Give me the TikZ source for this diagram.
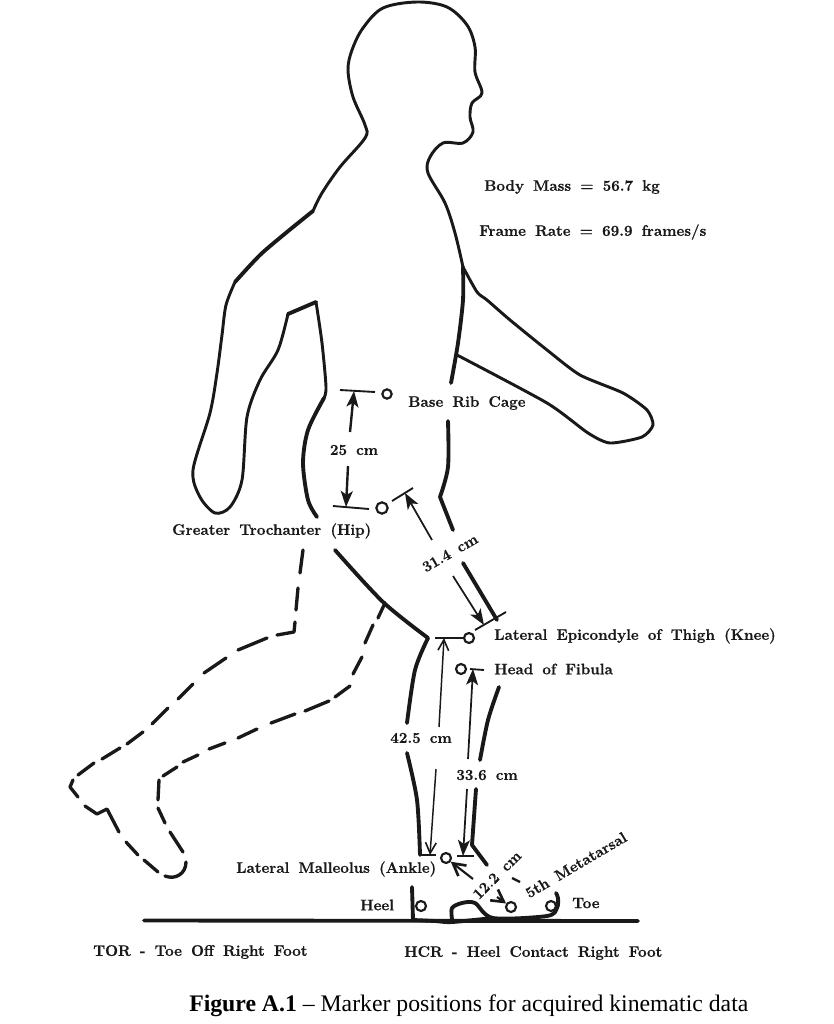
\documentclass[tikz,border=0pt]{standalone}
\usepackage{fontspec}
\usetikzlibrary{arrows.meta}
\newfontfamily\capfont{Liberation Serif}
\newfontfamily\lblfont[BoldFont={Latin Modern Roman/B},BoldFeatures={FakeBold=0.8}]{Latin Modern Roman}
\begin{document}
\begin{tikzpicture}[x=0.75pt,y=-0.75pt,
  outline/.style={line width=2.9pt,line cap=round,line join=round,black!90},
  outlinethin/.style={line width=2.2pt,line cap=round,line join=round,black!90},
  dashseg/.style={line width=2.5pt,line cap=round,line join=round,black!90},
  tbar/.style={line width=1.4pt,black!90},
  dimfill/.style={line width=1.3pt,black!90,-{Stealth[length=12pt,width=9pt,inset=3pt]}},
  dimopen/.style={line width=1.1pt,black!90,-{Straight Barb[length=8pt,width=8pt,line width=1.2pt]}},
  dimbarb/.style={line width=1.6pt,black!90,-{Straight Barb[length=9pt,width=10pt,line width=2pt]}},
  marker/.style={circle,draw=black!90,line width=1.6pt,minimum size=7.5pt,inner sep=0pt},
  lbl/.style={font=\lblfont\fontsize{11.4}{13}\selectfont\bfseries,inner sep=0pt,text=black!90},
  wide/.style={execute at begin node={\spaceskip=0.6em\relax}},
]
\useasboundingbox (0,0) rectangle (833,1024);

% --- head, shoulders and trunk ---
\draw[outline] plot[smooth,tension=0.45] coordinates {(235,282)(260,255)(287,232)(313,211)};
\draw[outlinethin] plot[smooth,tension=0.55] coordinates {(313,211)(322,193)(340,167)(365,138)(365,125)(353,97)(348,70)(352,50)(363,28)(383,8)(417,2)(447,7)(467,25)(475,47)(475,72)(482,93)(472,103)(470,117)(473,132)(463,143)(443,143)(430,157)(428,173)(445,203)(455,233)(463,267)};
\draw[outline] plot[smooth,tension=0.5] coordinates {(463,267)(463,300)(458,343)(451,383)};
\draw[outline] plot[smooth,tension=0.5] coordinates {(448,421)(448,467)(440,497)};
\draw[outline] (440,497) -- (453,530);
% back arm
\draw[outlinethin] plot[smooth,tension=0.5] coordinates {(235,282)(226,305)(222,335)(217,373)(210,413)(193,470)(200,497)(215,513)(230,507)(242,480)(247,417)(260,380)(278,350)(288,314)};
\draw[outline] (288,314) -- (316,302);
\draw[outlinethin] plot[smooth,tension=0.5] coordinates {(316,302)(322,343)(326,387)(324,398)};
\draw[outline] plot[smooth,tension=0.5] coordinates {(324,398)(308,430)(303,463)(308,500)(317,517)};
% front arm
\draw[outlinethin] plot[smooth,tension=0.4] coordinates {(463,267)(477,292)(487,300)(510,320)(547,350)(580,375)(623,393)(647,410)(653,425)(642,437)(610,443)(588,433)(547,403)(457,355)};
% leg
\draw[outline] plot[smooth,tension=0.5] coordinates {(335,550)(383,602)(428,638)};
\draw[outline] plot[smooth,tension=0.5] coordinates {(428,638)(415,670)(407,723)};
\draw[outline] plot[smooth,tension=0.5] coordinates {(407,753)(417,800)(420,855)};
\draw[outline] (463,563) -- (497,620);
\draw[outline] plot[smooth,tension=0.5] coordinates {(499,687)(488,720)(480,760)};
\draw[outline] (476,789) -- (472,845) -- (487,865);
% foot and ground
\draw[outline] (144,920.5) -- (638,921);
\draw[outline] (412,887) -- (413,920);
\draw[outline] plot[smooth,tension=0.5] coordinates {(413,920)(435,921)(452,922)(493,918)};
\draw[outline] plot[smooth,tension=0.5] coordinates {(452,919)(452,908)(462,903)(475,903)(493,918)(547,916)(557,908)(558,898)(556,893)};

% --- dashed left leg ---
\draw[dashseg] (303,550) -- (300,573) (298,588) -- (296,610)
  (295,622) -- (294,632) -- (277,635) (267,638) -- (238,650) (226,658) -- (204,673)
  (193,684) -- (178,699) (168,708) -- (152,724) (143,732) -- (127,744)
  (120,748) -- (102,759) (94,763) -- (78,775) (73,780) -- (70,787) -- (78,797)
  (85,806) -- (97,814) -- (107,809) -- (119,832) (126,842) -- (138,855)
  (144,860) -- (158,872) (165,876) .. controls (175,880) and (186,874) .. (186,862)
  (183,852) -- (170,832) (165,823) -- (158,808) (158,800) -- (159,780)
  (163,776) -- (177,767) (183,762) -- (198,755) (209,749) -- (225,743)
  (238,738) -- (257,729) (271,723) -- (295,714) (305,711) -- (329,701)
  (335,697) -- (350,686) (353,674) -- (362,657) (365,643) -- (373,625)
  (378,618) -- (385,603);

% --- markers ---
\node[marker,minimum size=7pt] (rib) at (387,394) {};
\node[marker,minimum size=8.5pt] (hip) at (382,508) {};
\node[marker] (knee) at (469,638) {};
\node[marker] (fibula) at (461,669) {};
\node[marker] (ankle) at (446,858) {};
\node[marker] (meta) at (511,907) {};
\node[marker] (heel) at (421,906) {};
\node[marker] (toe) at (551,906) {};

% --- dimension bars ---
\coordinate (ribL) at (340,390); \coordinate (ribR) at (375,392); \coordinate (ribT) at (354,391);
\coordinate (hipL) at (333,506); \coordinate (hipR) at (369,509); \coordinate (hipT) at (346,507);
\coordinate (hipaL) at (392,501); \coordinate (hipaR) at (413,488); \coordinate (hipaT) at (405,493);
\coordinate (kneeaL) at (475,630); \coordinate (kneeaR) at (506,612); \coordinate (kneeaT) at (484,625);
\coordinate (kneeL) at (435,638); \coordinate (kneeR) at (463,638); \coordinate (kneeT) at (444,638);
\coordinate (fibL) at (470,669); \coordinate (fibR) at (484,670); \coordinate (fibT) at (473,669);
\coordinate (mallL) at (420,855); \coordinate (mallR) at (436,855); \coordinate (mallT) at (430,855);
\coordinate (footL) at (457,856); \coordinate (footR) at (474,856); \coordinate (footT) at (463,856);
\foreach \a/\b in {ribL/ribR,hipL/hipR,hipaL/hipaR,kneeaL/kneeaR,kneeL/kneeR,fibL/fibR,mallL/mallR,footL/footR}
  \draw[tbar] (\a) -- (\b);

% --- free ends of dimension arrows ---
\coordinate (a25up) at (350,432);
\coordinate (a25dn) at (348,466);
\coordinate (a31up) at (432,540);
\coordinate (a31dn) at (453,576);
\coordinate (a42up) at (439,727);
\coordinate (a42dn) at (436,769);
\coordinate (a33up) at (468,759);
\coordinate (a33dn) at (467,789);
\coordinate (a12up) at (473,879);
\coordinate (a12dn) at (497,897);
\coordinate (a12tA) at (512,878);
\coordinate (a12tB) at (520,882);

\draw[dimfill,line width=1.8pt] (a25up) -- (ribT);
\draw[dimfill,line width=1.8pt] (a25dn) -- (hipT);
\draw[dimfill] (a31up) -- (hipaT);
\draw[dimfill] (a31dn) -- (kneeaT);
\draw[dimopen] (a42up) -- (kneeT);
\draw[dimopen] (a42dn) -- (mallT);
\draw[dimfill] (a33up) -- (fibT);
\draw[dimfill] (a33dn) -- (footT);
\draw[dimbarb] (a12up) -- (ankle);
\draw[dimbarb] (a12dn) -- (meta);
\draw[line width=1.8pt,black!90] (a12tA) -- (a12tB);

% --- labels ---
\node[lbl,wide,anchor=west] (bm) at (484,187) {Body Mass = 56.7 kg};
\node[lbl,wide,anchor=west] (fr) at (479,232) {Frame Rate = 69.9 frames/s};
\node[lbl,wide,anchor=west] (brc) at (408,403) {Base Rib Cage};
\node[lbl,wide] (l25) at (354,450) {25 cm};
\node[lbl,wide,anchor=west] (gt) at (172,531) {Greater Trochanter (Hip)};
\node[lbl,wide,rotate=30] (l31) at (450,553) {31.4 cm};
\node[lbl,wide,anchor=west] (lek) at (494,636) {Lateral Epicondyle of Thigh (Knee)};
\node[lbl,wide,anchor=west] (hf) at (494,669) {Head of Fibula};
\node[lbl,wide] (l42) at (421,738) {42.5 cm};
\node[lbl,wide] (l33) at (487,775) {33.6 cm};
\node[lbl,wide,anchor=west] (lm) at (236,869) {Lateral Malleolus (Ankle)};
\node[lbl,wide,rotate=45] (l12) at (497,875) {12.2 cm};
\node[lbl,wide,rotate=30.5] (m5) at (576,865) {5th Metatarsal};
\node[lbl,wide,anchor=west] (hl) at (360,905) {Heel};
\node[lbl,wide,anchor=west] (tl) at (572,903) {Toe};
\node[lbl,wide,anchor=west] (tor) at (93,952) {TOR - Toe Off Right Foot};
\node[lbl,wide,anchor=west] (hcr) at (404,953) {HCR - Heel Contact Right Foot};
\node[inner sep=0pt,anchor=west,font=\capfont\fontsize{17.8}{20}\selectfont] (cap) at (189,1006) {\textbf{Figure A.1} – Marker positions for acquired kinematic data};
\end{tikzpicture}
\end{document}
